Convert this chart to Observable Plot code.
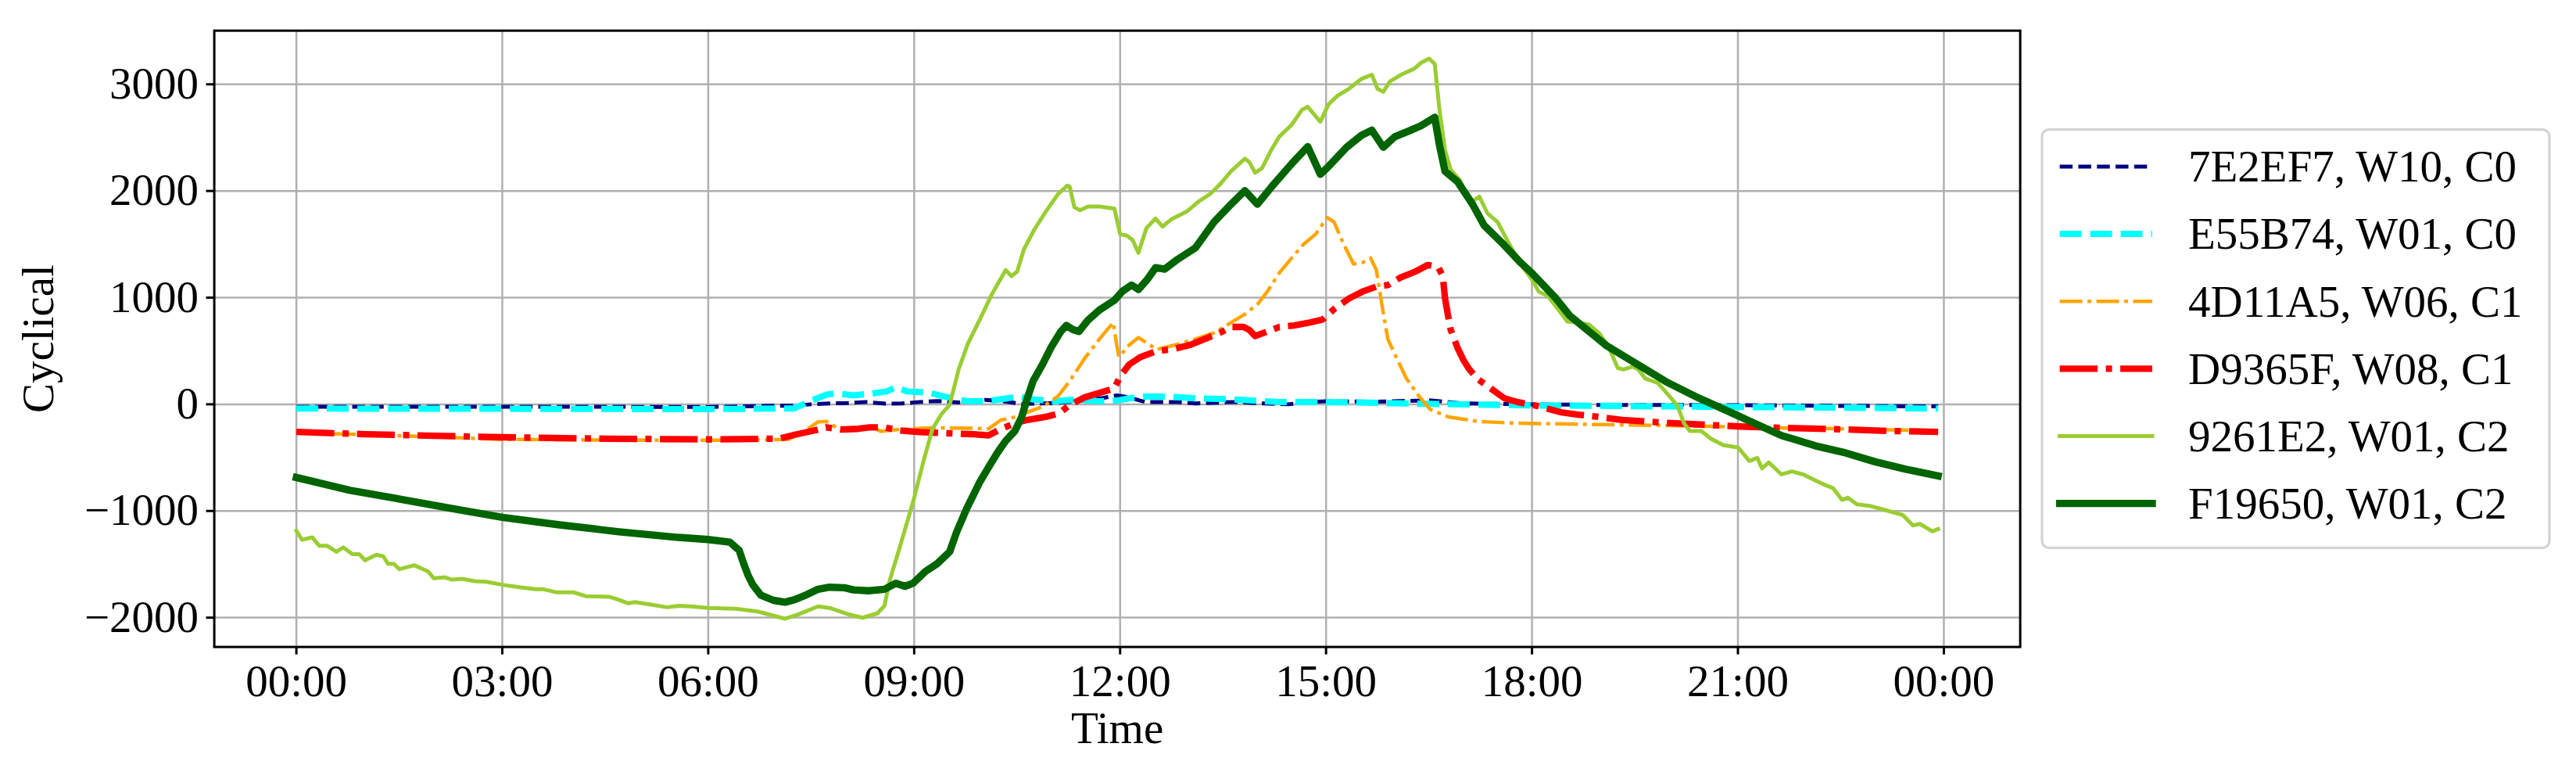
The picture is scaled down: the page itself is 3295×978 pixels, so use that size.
<!DOCTYPE html>
<html>
<head>
<meta charset="utf-8">
<script src="https://cdn.jsdelivr.net/npm/d3@7"></script>
<script src="https://cdn.jsdelivr.net/npm/@observablehq/plot@0.6"></script>
<style>
  html, body { margin: 0; padding: 0; background: white; }
  #wrap { position: relative; width: 3295px; height: 978px; background: white; }
  #wrap svg { position: absolute; left: 0; top: 0; }
</style>
</head>
<body>
<div id="wrap"></div>
<script>
// ---------------- DATA ----------------
const xTicks = [0, 3, 6, 9, 12, 15, 18, 21, 24];
const xTickLabels = ["00:00", "03:00", "06:00", "09:00", "12:00", "15:00", "18:00", "21:00", "00:00"];
const yTicks = [-2000, -1000, 0, 1000, 2000, 3000];
const yTickLabels = ["−2000", "−1000", "0", "1000", "2000", "3000"];
const seriesNames = ["7E2EF7, W10, C0", "E55B74, W01, C0", "4D11A5, W06, C1", "D9365F, W08, C1", "9261E2, W01, C2", "F19650, W01, C2"];

const s7E2EF7 = [["00:00",-22],["03:00",-22],["06:00",-25],["07:15",-11],["07:30",0],["07:46",8],["08:00",11],["08:18",22],["08:35",6],["08:49",8],["09:05",22],["09:20",31],["09:39",17],["10:02",42],["10:18",28],["10:34",5],["10:52",8],["11:10",17],["11:32",40],["11:45",60],["11:57",84],["12:05",70],["12:22",22],["12:48",22],["13:06",8],["13:40",22],["14:06",8],["14:27",0],["14:46",22],["15:00",28],["15:45",25],["16:30",37],["17:00",8],["18:00",0],["19:00",-6],["21:00",-8],["22:30",-15],["23:55",-20]];

const sE55B74 = [["00:00",-40],["03:00",-42],["06:00",-45],["07:15",-39],["07:31",37],["07:44",93],["07:54",101],["08:07",84],["08:23",101],["08:36",121],["08:44",160],["08:54",121],["09:13",110],["09:24",79],["09:36",50],["09:47",28],["10:03",28],["10:18",51],["10:31",73],["10:45",45],["11:03",28],["11:21",45],["11:42",28],["11:58",37],["12:08",56],["12:22",73],["12:40",73],["13:06",56],["13:27",51],["13:53",37],["14:19",22],["14:46",22],["15:00",22],["16:00",10],["17:00",0],["18:00",-11],["19:00",-14],["20:00",-20],["21:00",-25],["22:30",-32],["23:55",-40]];

const s4D11A5 = [["00:00",-264],["01:00",-285],["02:00",-305],["03:00",-329],["04:30",-335],["06:00",-337],["07:10",-329],["07:23",-259],["07:36",-165],["07:43",-160],["07:52",-216],["08:13",-236],["08:23",-216],["08:31",-253],["08:47",-236],["09:15",-220],["09:52",-225],["10:05",-230],["10:16",-146],["10:29",-118],["10:42",-62],["10:53",-20],["11:06",79],["11:16",219],["11:29",430],["11:42",612],["11:54",767],["11:57",556],["11:59",444],["12:08",556],["12:16",626],["12:24",570],["12:32",514],["12:48",556],["13:06",612],["13:22",669],["13:35",753],["13:50",851],["14:01",949],["14:09",1062],["14:19",1230],["14:30",1371],["14:40",1497],["14:51",1596],["15:01",1750],["15:07",1708],["15:15",1511],["15:24",1315],["15:32",1329],["15:39",1371],["15:44",1258],["15:49",921],["15:54",612],["16:00",472],["16:10",247],["16:21",79],["16:31",-48],["16:47",-118],["17:13",-160],["17:39",-174],["18:05",-180],["18:58",-190],["19:50",-197],["20:42",-208],["21:42",-222],["22:34",-230],["23:55",-250]];

const sD9365F = [["00:00",-259],["01:00",-280],["02:00",-295],["03:00",-309],["04:30",-322],["06:00",-329],["07:02",-322],["07:15",-287],["07:33",-245],["07:43",-216],["07:56",-236],["08:11",-230],["08:21",-216],["08:34",-216],["08:47",-245],["09:05",-260],["09:26",-270],["09:52",-281],["10:05",-292],["10:16",-230],["10:29",-174],["10:39",-146],["10:55",-118],["11:07",-84],["11:16",-6],["11:29",65],["11:42",107],["11:55",149],["12:00",261],["12:08",374],["12:18",444],["12:32",500],["12:45",514],["13:01",556],["13:14",612],["13:27",669],["13:37",725],["13:48",725],["13:53",697],["13:58",640],["14:09",683],["14:19",725],["14:32",739],["14:46",767],["14:57",795],["15:07",893],["15:20",992],["15:33",1062],["15:44",1104],["15:54",1118],["16:05",1188],["16:18",1244],["16:29",1306],["16:38",1287],["16:42",1202],["16:44",992],["16:47",809],["16:49",697],["16:55",528],["17:00",416],["17:05",331],["17:13",233],["17:24",149],["17:36",56],["17:47",22],["18:03",-11],["18:26",-76],["18:39",-96],["18:58",-118],["19:19",-146],["19:50",-169],["20:24",-188],["21:02",-208],["21:42",-222],["22:34",-236],["23:13",-250],["23:55",-258]];

const s9261E2 = [["00:00",-1186],["00:05",-1270],["00:14",-1248],["00:20",-1327],["00:27",-1327],["00:35",-1383],["00:41",-1341],["00:49",-1405],["00:55",-1405],["01:00",-1462],["01:10",-1411],["01:16",-1425],["01:20",-1495],["01:25",-1495],["01:30",-1546],["01:43",-1509],["01:55",-1566],["02:00",-1630],["02:10",-1622],["02:16",-1644],["02:25",-1636],["02:36",-1658],["02:46",-1664],["03:00",-1692],["03:15",-1715],["03:29",-1734],["03:36",-1734],["03:47",-1762],["04:02",-1762],["04:13",-1799],["04:34",-1805],["04:42",-1833],["04:50",-1866],["04:56",-1855],["05:08",-1875],["05:24",-1903],["05:34",-1889],["05:45",-1895],["06:00",-1910],["06:24",-1917],["06:42",-1940],["06:49",-1959],["07:07",-2010],["07:18",-1973],["07:36",-1895],["07:46",-1909],["08:02",-1968],["08:15",-2001],["08:28",-1959],["08:34",-1889],["08:39",-1636],["08:47",-1355],["09:00",-876],["09:08",-539],["09:16",-230],["09:24",-90],["09:31",-6],["09:39",331],["09:47",570],["09:58",809],["10:08",1034],["10:20",1258],["10:25",1202],["10:30",1244],["10:36",1455],["10:45",1638],["10:55",1806],["11:06",1975],["11:14",2051],["11:16",2040],["11:20",1848],["11:25",1820],["11:32",1854],["11:42",1854],["11:55",1834],["12:00",1596],["12:06",1581],["12:11",1539],["12:16",1421],["12:23",1652],["12:31",1742],["12:37",1666],["12:45",1736],["12:58",1806],["13:09",1904],["13:19",1975],["13:27",2059],["13:37",2185],["13:49",2303],["13:53",2270],["13:58",2171],["14:04",2213],["14:12",2382],["14:19",2508],["14:30",2621],["14:39",2761],["14:44",2789],["14:55",2649],["15:02",2809],["15:10",2893],["15:20",2958],["15:31",3051],["15:40",3090],["15:45",2958],["15:50",2930],["15:56",3028],["16:07",3098],["16:17",3146],["16:23",3202],["16:30",3241],["16:35",3191],["16:39",2775],["16:44",2382],["16:49",2199],["16:57",2101],["17:06",1890],["17:14",1947],["17:21",1792],["17:30",1708],["17:39",1525],["17:50",1315],["18:00",1169],["18:06",1056],["18:14",1014],["18:23",888],["18:31",775],["18:38",770],["18:50",747],["18:59",663],["19:07",537],["19:15",340],["19:20",326],["19:28",354],["19:33",326],["19:39",242],["19:50",199],["19:57",115],["20:07",-11],["20:13",-180],["20:18",-250],["20:28",-250],["20:36",-320],["20:47",-382],["21:00",-404],["21:10",-531],["21:17",-503],["21:21",-601],["21:27",-545],["21:38",-657],["21:47",-629],["21:57",-657],["22:05",-699],["22:16",-756],["22:23",-784],["22:31",-896],["22:36",-876],["22:44",-938],["22:55",-952],["23:08",-989],["23:24",-1037],["23:33",-1135],["23:39",-1121],["23:50",-1191],["23:55",-1169]];

const sF19650 = [["00:00",-686],["00:47",-807],["01:39",-905],["02:18",-981],["03:00",-1060],["03:50",-1130],["04:42",-1195],["05:34",-1248],["06:00",-1268],["06:19",-1293],["06:27",-1369],["06:31",-1495],["06:35",-1608],["06:39",-1692],["06:46",-1790],["06:57",-1838],["07:07",-1855],["07:15",-1833],["07:26",-1785],["07:36",-1734],["07:46",-1715],["07:59",-1720],["08:07",-1740],["08:20",-1748],["08:34",-1734],["08:44",-1678],["08:52",-1706],["08:59",-1678],["09:10",-1566],["09:20",-1495],["09:31",-1383],["09:37",-1200],["09:46",-975],["09:57",-736],["10:05",-590],["10:13",-450],["10:20",-343],["10:28",-250],["10:34",-118],["10:39",60],["10:44",220],["10:52",370],["11:00",540],["11:08",680],["11:13",739],["11:19",700],["11:24",683],["11:32",790],["11:42",885],["11:55",975],["12:02",1060],["12:10",1118],["12:16",1076],["12:24",1174],["12:31",1281],["12:39",1267],["12:50",1357],["13:06",1469],["13:22",1708],["13:37",1876],["13:49",2003],["14:00",1876],["14:14",2059],["14:30",2256],["14:44",2415],["14:55",2157],["15:02",2228],["15:18",2410],["15:31",2522],["15:40",2570],["15:50",2410],["16:00",2508],["16:13",2565],["16:23",2612],["16:35",2691],["16:39",2438],["16:44",2185],["16:55",2087],["17:08",1876],["17:18",1680],["17:34",1511],["17:50",1329],["18:00",1230],["18:21",992],["18:33",831],["19:05",551],["19:31",382],["19:57",213],["20:23",73],["20:49",-53],["21:15",-180],["21:38",-292],["22:08",-390],["22:34",-455],["23:00",-539],["23:26",-607],["23:55",-671]];

const seriesData = [s7E2EF7, sE55B74, s4D11A5, sD9365F, s9261E2, sF19650];

// ---------------- STYLE / LAYOUT ----------------
const seriesStyle = [
  {color: "#000080", width: 5,   dash: "16.5,7.3",          cap: "butt"},
  {color: "#00ffff", width: 8,   dash: "28,11",             cap: "butt"},
  {color: "#ffa500", width: 4.5, dash: "29,6.5,5,6.5",      cap: "butt"},
  {color: "#ff0000", width: 8.3, dash: "48.5,10.5,8,10.5",  cap: "butt"},
  {color: "#9acd32", width: 5,   dash: null,                cap: "square"},
  {color: "#006400", width: 9.4, dash: null,                cap: "square"}
];
const W = 3295, H = 978;
const M = {left: 273.6, right: 711.4, top: 38.7, bottom: 151.4};
const FONT = "'Liberation Serif', 'Times New Roman', serif";
const FS = 57;

const parseT = s => { const [h, m] = s.split(":").map(Number); return h + m / 60; };
const tMax = parseT("23:55");
const xDomain = [-0.05 * tMax, tMax * 1.05];
const yDomain = [-2275, 3503];

const lineMarks = seriesData.map((arr, i) => {
  const st = seriesStyle[i];
  const opts = {
    x: d => parseT(d[0]),
    y: d => d[1],
    stroke: st.color,
    strokeWidth: st.width,
    strokeLinecap: st.cap,
    strokeLinejoin: "round"
  };
  if (st.dash) opts.strokeDasharray = st.dash;
  return Plot.line(arr, opts);
});

const chart = Plot.plot({
  width: W,
  height: H,
  marginLeft: M.left,
  marginRight: M.right,
  marginTop: M.top,
  marginBottom: M.bottom,
  style: {fontFamily: FONT, fontSize: FS + "px", color: "black", background: "white", overflow: "visible"},
  x: {type: "linear", domain: xDomain},
  y: {type: "linear", domain: yDomain},
  marks: [
    Plot.gridX(xTicks, {stroke: "#b0b0b0", strokeOpacity: 1, strokeWidth: 2.5}),
    Plot.gridY(yTicks, {stroke: "#b0b0b0", strokeOpacity: 1, strokeWidth: 2.5}),
    ...lineMarks,
    Plot.frame({stroke: "black", strokeWidth: 3}),
    Plot.axisX(xTicks, {
      tickSize: 10, tickPadding: 12, strokeWidth: 3,
      tickFormat: d => xTickLabels[xTicks.indexOf(d)],
      label: null, fontSize: FS
    }),
    Plot.axisY(yTicks, {
      tickSize: 10, tickPadding: 10, strokeWidth: 3,
      tickFormat: d => yTickLabels[yTicks.indexOf(d)],
      label: null, fontSize: FS
    }),
    Plot.text(["Time"], {frameAnchor: "bottom", textAnchor: "middle", lineAnchor: "middle", dy: 105, fontSize: FS, fill: "black"}),
    Plot.text(["Cyclical"], {frameAnchor: "left", textAnchor: "middle", lineAnchor: "middle", dx: -224, rotate: -90, fontSize: FS, fill: "black"})
  ]
});

const wrap = document.getElementById("wrap");
wrap.appendChild(chart);

// ---------------- LEGEND (overlay) ----------------
const leg = d3.select(wrap).append("svg")
  .attr("width", W).attr("height", H)
  .style("pointer-events", "none");
const L = {x: 2612, y: 165.6, w: 649, h: 534.8, row0: 212.9, step: 86.15, lx0: 2634.6, lx1: 2753, tx: 2799};
leg.append("rect")
  .attr("x", L.x).attr("y", L.y).attr("width", L.w).attr("height", L.h)
  .attr("rx", 9).attr("ry", 9)
  .attr("fill", "white").attr("stroke", "#d3d3d3").attr("stroke-width", 3.2);
seriesNames.forEach((name, i) => {
  const st = seriesStyle[i];
  const y = L.row0 + i * L.step;
  const ln = leg.append("line")
    .attr("x1", L.lx0).attr("x2", L.lx1).attr("y1", y).attr("y2", y)
    .attr("stroke", st.color).attr("stroke-width", st.width)
    .attr("stroke-linecap", st.cap);
  if (st.dash) ln.attr("stroke-dasharray", st.dash);
  leg.append("text")
    .attr("x", L.tx).attr("y", y + 0.34 * FS)
    .attr("font-family", FONT).attr("font-size", FS)
    .attr("fill", "black")
    .text(name);
});
</script>
</body>
</html>
